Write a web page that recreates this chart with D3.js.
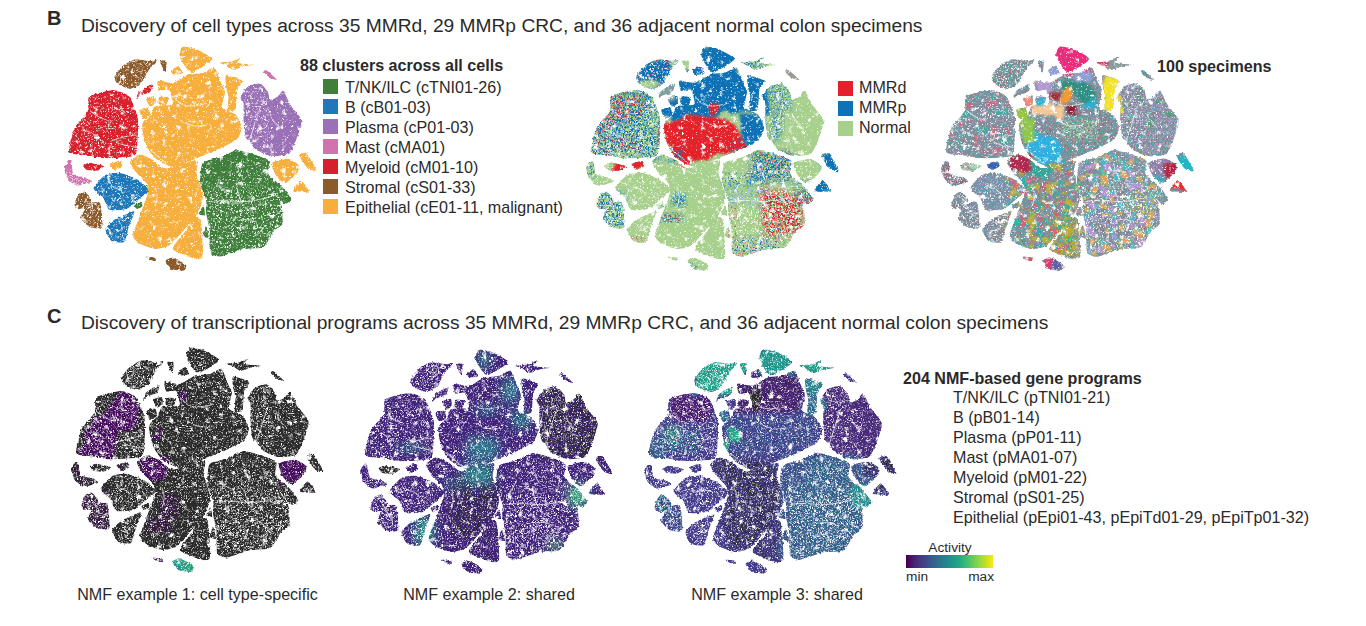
<!DOCTYPE html>
<html><head><meta charset="utf-8">
<script src="https://cdn.jsdelivr.net/npm/d3@7"></script>
<style>html,body{margin:0;background:#fff}svg{display:block}text{font-family:"Liberation Sans",Arial,sans-serif;fill:#2a2a2a}</style>
</head><body><svg id="c" width="1366" height="626"></svg>
<script>
// Embedding outlines (embedding units, 900 x 720 frame)
const tniMain=[[480,420],[488,368],[540,352],[590,330],[640,342],[688,362],[685,400],[703,425],[703,460],[724,490],[728,552],[703,572],[670,622],[610,628],[540,650],[510,637],[508,570],[498,520],[498,480],[483,440]];
const tniSideA=[[695,428],[715,428],[754,475],[735,492],[708,465]];
const tniSideB=[[476,522],[490,498],[496,527]];
const tniSideC=[[488,587],[498,556],[507,594]];
const tniSideD=[[283,495],[305,486],[307,500],[290,507]];
const bMain=[[160,445],[195,405],[240,398],[292,418],[326,450],[292,482],[260,507],[208,510],[188,472]];
const bLower=[[196,567],[225,538],[283,513],[267,560],[252,607],[213,602]];
const plasmaMain=[[601,170],[625,138],[660,130],[684,155],[690,178],[712,170],[730,152],[752,195],[785,240],[772,292],[747,342],[690,348],[645,327],[628,302],[616,292],[610,240],[610,190]];
const mastMain=[[72,385],[85,363],[95,368],[102,403],[140,413],[153,425],[110,437],[83,417]];
const myeloidMain=[[88,337],[103,265],[143,213],[148,168],[220,150],[267,168],[293,230],[293,300],[283,347],[190,355],[150,348]];
const myeloidSmall=[[128,375],[150,368],[192,378],[170,392],[140,390]];
const myeloidSliver=[[288,177],[298,153],[337,131],[330,157],[300,167]];
const myeloidFar=[[670,95],[680,91],[712,120],[690,114]];
const stromalTop=[[223,110],[250,76],[285,58],[330,63],[352,60],[327,90],[302,132],[270,147],[233,132]];
const stromalSliver=[[360,63],[380,63],[377,97],[367,82]];
const stromalLeftA=[[103,495],[115,463],[135,455],[154,480],[147,502],[115,507]];
const stromalLeftB=[[123,535],[145,493],[180,488],[187,562],[150,562]];
const stromalFoot=[[316,650],[345,653],[347,663],[330,660]];
const stromalBase=[[376,662],[400,653],[439,675],[432,692],[395,687]];
const epiTop=[[418,45],[428,20],[470,28],[517,58],[455,97],[430,72]];
const epiDot=[[393,92],[415,78],[427,100],[400,104]];
const epiThin=[[538,68],[575,64],[607,50],[592,68],[642,74],[610,80],[580,90],[560,77]];
const epiWedge=[[558,106],[607,123],[592,150],[587,207],[563,212],[565,170],[558,140]];
const epiBitA=[[298,210],[325,203],[330,225],[310,237]];
const epiBitB=[[318,175],[345,168],[347,190],[330,200]];
const epiBitC=[[358,170],[387,173],[377,197],[356,192]];
const epiUpper=[[353,123],[400,128],[445,103],[490,98],[524,83],[542,125],[555,155],[547,203],[587,223],[606,262],[592,297],[547,323],[482,350],[400,381],[345,355],[316,312],[306,255],[333,223],[345,198],[397,193],[387,150],[358,152]];
const epiLower=[[270,365],[300,343],[340,360],[378,385],[472,360],[470,400],[490,470],[472,522],[422,582],[387,617],[345,627],[300,612],[278,587],[298,530],[323,460],[318,430],[288,397]];
const epiWedgeLow=[[453,533],[482,538],[490,647],[465,657],[398,627],[438,570]];
const epiRight=[[695,368],[745,356],[777,375],[774,397],[735,430],[708,407]];
const epiFar=[[778,345],[800,340],[830,392],[805,387],[788,365]];
const epiTri=[[758,452],[782,421],[808,454],[785,455]];
const epiSmall=[[208,372],[240,363],[247,378],[225,390]];

const clusterShapes=[
 [tniMain,"T"],[tniSideA,"T"],[tniSideB,"T"],[tniSideC,"T"],[tniSideD,"T"],
 [bMain,"B"],[bLower,"B"],[plasmaMain,"P"],[mastMain,"MA"],[myeloidFar,"MA"],
 [myeloidMain,"M"],[myeloidSmall,"M"],[myeloidSliver,"M"],
 [stromalTop,"S"],[stromalSliver,"S"],[stromalLeftA,"S"],[stromalLeftB,"S"],[stromalFoot,"S"],[stromalBase,"S"],
 [epiTop,"E"],[epiDot,"E"],[epiThin,"E"],[epiWedge,"E"],[epiBitA,"E"],[epiBitB,"E"],[epiBitC,"E"],[epiUpper,"E"],[epiLower,"E"],[epiWedgeLow,"E"],[epiRight,"E"],[epiFar,"E"],[epiTri,"E"],[epiSmall,"E"]];

// White gaps visible across all panels
const veins=[
 [[215,302],[250,290],[288,285]],[[230,308],[262,318],[290,322]],[[150,212],[175,232],[200,240]],[[130,270],[150,275],[170,290]],
 [[662,198],[645,250],[628,302]],[[690,220],[700,245],[720,262]],
 [[590,440],[605,500],[640,520]],[[505,485],[560,478],[620,490],[690,470]],[[640,590],[660,580],[672,558]],[[540,410],[535,430],[520,450]],[[600,540],[625,535],[650,548]],[[590,370],[595,395],[610,420]],
 [[400,170],[430,205],[500,190]],[[330,330],[350,345],[380,372]],[[420,240],[460,262],[500,255]],
 [[345,440],[355,470],[345,500]],[[210,440],[235,445],[250,460]],[[225,570],[240,575],[250,560]],[[135,475],[150,500],[160,520]]];

const typeColor={T:"#3f7f3a",B:"#1f78b9",P:"#9a70b6",MA:"#d173ad",M:"#d7202e",S:"#8c5a2b",E:"#f6ae3c"};
const MMRD="#e4202c",MMRP="#0f72b5",NORMAL="#a8d08d",BLACK="#2a2a2a",GAP="#ffffff";

const box=(a,b,c,d)=>[[a,b],[c,b],[c,d],[a,d]];
// Loose, sparsely populated regions shared by every panel
const gapPatches=[
 [box(500,440,730,640),GAP,"m3"],[box(560,360,690,440),GAP,"m2"],[box(225,60,345,145),GAP,"m3"],[box(105,455,190,565),GAP,"m3"],
 [box(95,170,290,350),GAP,"m2"],[box(610,135,690,300),GAP,"m2"],[box(220,515,285,605),GAP,"m3"],[box(190,420,300,500),GAP,"m2"],[box(70,390,150,440),GAP,"m3"]];

const patchesMMR=[
 [box(85,150,300,360),MMRP,"m8"],[[[90,230],[180,170],[230,165],[200,240],[130,290],[95,300]],MMRD,"m5"],[box(150,155,255,230),MMRD,"m3"],[box(90,290,240,345),MMRD,"m3"],
 [[[240,190],[300,190],[300,270],[250,260]],NORMAL,"m7"],[box(150,328,285,356),NORMAL,"m7"],
 [box(220,55,360,150),MMRP,"s"],[box(220,55,335,130),MMRD,"m3"],[[[225,115],[300,130],[285,150],[225,135]],NORMAL,"s"],[box(330,58,385,100),NORMAL,"s"],
 [box(390,15,530,105),MMRP,"s"],[box(535,45,610,95),MMRP,"m7"],[box(665,88,715,125),"#999999","s"],
 [[[345,90],[620,90],[620,225],[560,215],[480,230],[390,235],[320,240],[295,200],[345,160]],MMRP,"s"],[box(445,192,475,222),MMRD,"s"],
 [box(285,130,340,180),"#7c9d9d","s"],
 [[[300,245],[350,232],[440,225],[500,245],[540,290],[560,320],[500,340],[400,360],[375,390],[340,360],[315,320],[295,310]],MMRD,"s"],
 [[[525,225],[610,220],[610,300],[570,320],[540,300]],MMRP,"s"],[[[500,300],[560,300],[560,330],[510,340]],MMRP,"m5"],[box(315,325,365,368),MMRP,"m7"],
 [box(600,130,690,215),MMRP,"m7"],[[[635,215],[665,215],[650,305],[625,300]],MMRP,"m8"],
 [box(128,368,192,392),MMRD,"s"],[box(208,363,247,390),MMRD,"s"],
 [box(65,360,155,440),NORMAL,"s"],[box(70,360,105,410),MMRP,"m5"],
 [box(778,340,830,395),MMRP,"s"],[box(758,420,808,456),MMRP,"s"],
 [box(100,455,190,565),MMRP,"m8"],[box(100,455,190,565),NORMAL,"m3"],[box(100,480,160,510),MMRD,"m3"],
 [box(198,590,255,610),MMRD,"m5"],[box(290,485,310,510),MMRP,"m5"],
 [box(565,335,690,425),MMRP,"m8"],[box(565,335,690,425),MMRD,"m3"],
 [box(485,400,620,440),MMRP,"m5"],[box(495,430,620,500),MMRP,"m5"],
 [[[600,440],[725,470],[725,580],[610,590],[595,520]],MMRD,"m8"],[[[600,440],[725,470],[725,580],[610,590],[595,520]],MMRP,"m2"],
 [box(697,425,755,495),MMRP,"m8"],[box(697,455,755,495),MMRD,"m5"],
 [box(505,590,665,652),MMRP,"m5"],[box(505,590,665,652),MMRD,"m3"],[box(498,480,525,600),MMRD,"m3"],
 [box(330,460,372,500),MMRP,"m8"],[box(295,520,358,546),MMRP,"m7"],[box(295,520,358,546),MMRD,"m3"],
 [box(378,670,410,690),MMRP,"m5"]];

const patchesSpecimen=[
 [box(0,0,900,720),"#62b08a","m5"],[box(0,0,900,720),"#c8607c","m3"],[box(0,0,900,720),"#a795d0","m3"],[box(0,0,900,720),"#3fb2ba","m3"],[box(0,0,900,720),"#8d6f5a","m2"],
 [box(605,125,790,345),"#ab9ccc","m7"],[box(150,160,290,350),"#7f8ea6","m5"],[box(160,400,330,510),"#7d8db8","m7"],
 [box(270,350,490,650),"#25b5a5","L3"],[box(270,350,490,650),"#d0607a","L3"],[box(270,350,490,650),"#b6b040","L3"],
 [box(480,340,730,650),"#8fbf70","L3"],[box(480,340,730,650),"#4db8c0","L3"],[box(480,340,730,650),"#b195d5","L3"],[box(480,340,730,650),"#e0a05a","L2"],
 [box(95,160,290,350),"#c86a80","L2"],[box(95,160,290,350),"#4aa7a0","L3"],[box(610,130,790,345),"#5a9a80","L2"],
 [box(415,20,520,100),"#ee2a7b","s"],[box(535,45,575,92),"#e8325f","s"],[box(575,45,650,92),"#8a9a9a","s"],[box(390,80,430,105),"#8ea0d8","s"],
 [box(555,105,610,215),"#f4e22a","s"],
 [box(778,340,830,395),"#22b5c5","s"],[box(758,420,808,456),"#ee2a2a","s"],
 [box(697,355,778,430),"#8f7fa8","s"],[box(745,370,778,410),"#b5243f","s"],[box(700,405,745,430),"#3fa9b8","s"],
 [[[460,90],[535,90],[535,120],[480,130]],"#8e9fd6","s"],[[[420,115],[500,125],[540,170],[500,190],[440,150]],"#2f8f84","s"],
 [box(355,120,405,170),"#b59ad2","s"],[box(398,148,428,175),"#a92a30","s"],[box(432,148,468,190),"#f39a2f","s"],[box(507,170,537,210),"#25b3d5","s"],[box(452,200,487,225),"#8e1f33","s"],[[[345,190],[445,190],[440,225],[345,230]],"#f4c796","s"],
 [box(300,205,332,250),"#93c83d","s"],[box(317,172,347,200),"#f08a7a","s"],[box(358,170,390,195),"#28b6d8","s"],
 [[[318,265],[420,300],[440,360],[380,375],[340,350]],"#2db1de","s"],[box(318,240,350,300),"#8fc84a","s"],[[[430,240],[540,240],[540,300],[440,300]],"#a7d3a2","m7"],
 [box(275,345,345,395),"#b02a50","s"],[box(340,370,400,410),"#35a597","s"],[box(215,365,250,390),"#2f60c0","s"],[box(130,368,195,392),"#a7d5b5","s"],
 [box(65,360,155,440),"#a2526c","m7"],[box(400,530,490,660),"#b7ad3a","m7"],[box(290,590,350,625),"#40b0b8","m7"],[box(318,648,348,665),"#e83a6f","s"],[box(378,655,412,690),"#d83a76","s"],[box(412,655,440,690),"#5a60a8","s"],
 [box(630,460,728,510),"#a8c03f","m5"],[box(650,560,690,600),"#ef8a3a","m5"]];

const patchesNMF1=[
 [[[95,340],[130,232],[170,222],[220,150],[265,167],[285,212],[270,252],[210,272],[205,352],[130,358],[85,345]],.03,"s"],
 [box(695,355,778,430),.03,"s"],[box(280,352,360,412),.03,"s"],[box(340,462,390,532),.03,"m8"],[box(300,527,370,572),.03,"m7"],
 [box(100,455,190,570),.04,"m8"],[box(70,370,150,440),.03,"m5"],[box(392,152,420,177),.04,"s"],[box(320,267,340,297),.04,"s"],
 [box(315,645,350,665),.05,"s"],[box(375,650,442,695),.55,"s"],[box(405,650,442,695),.78,"m5"],[box(375,650,400,695),.3,"m5"],[box(208,363,247,390),.03,"m5"]];

const patchesNMF2=[
 [box(607,132,790,345),null,"m8"],[[[342,407],[470,360],[490,470],[420,580],[345,577]],null,"m7"],[box(402,547,490,660),null,"m3"],[box(128,368,195,392),null,"s"],
 [box(395,285,485,350),.4,"b"],[box(380,365,470,425),.45,"b"],[box(530,210,580,250),.5,"b"],[box(500,110,545,175),.45,"b"],[box(425,28,460,70),.5,"b"],
 [box(240,525,290,605),.55,"b"],[box(700,425,755,490),.66,"b"],[box(640,595,675,622),.72,"b"],[box(185,305,260,325),.45,"b"],[box(420,190,485,212),.45,"b"],[box(325,410,372,440),.3,"b"]];

const patchesNMF3=[
 [box(148,162,268,227),.08,"s"],[box(118,257,238,327),.42,"m8"],[box(140,255,168,285),.68,"b"],[box(85,290,130,345),.28,"s"],
 [box(605,125,790,345),.12,"s"],
 [box(225,55,385,150),.56,"s"],[box(415,20,520,98),.52,"s"],[box(535,45,650,92),.55,"s"],[box(555,105,610,155),.45,"s"],[box(555,160,610,215),.35,"s"],
 [box(348,97,548,207),.1,"s"],[box(348,97,548,207),null,"m3"],[box(390,145,422,197),null,"s"],
 [box(308,217,600,337),.3,"m7"],[box(318,257,370,297),.6,"s"],[box(298,297,320,322),.62,"s"],[box(300,200,330,235),.38,"s"],
 [[[272,347],[345,345],[470,362],[490,470],[470,520],[385,615],[345,620],[300,560],[330,470],[320,430]],null,"m7"],[box(400,530,490,660),null,"m5"],
 [box(697,355,778,400),null,"m7"],[box(735,400,778,430),.3,"s"],[box(778,340,830,395),null,"m8"],[box(758,420,808,456),null,"m5"],
 [box(478,337,728,650),.25,"s"],[box(558,342,690,427),.42,"m7"],[box(508,427,728,647),.4,"m7"],[box(697,425,755,495),.48,"s"],
 [box(100,455,155,505),.55,"m7"],[box(120,495,190,565),.46,"m5"]];

const panels=[
 {ox:40,oy:40,base:d=>typeColor[d],patches:[],speck:"speckLight"},
 {ox:562,oy:40,base:()=>NORMAL,patches:patchesMMR,speck:"speckLight"},
 {ox:917,oy:40,base:()=>"#7f8d9c",patches:patchesSpecimen,speck:"speckLight"},
 {ox:47,oy:341,base:()=>BLACK,patches:patchesNMF1,speck:"speckHeavy"},
 {ox:336,oy:343,base:()=>"#40227a",patches:patchesNMF2,speck:"speckHeavy"},
 {ox:620,oy:343,base:()=>"#433a8c",patches:patchesNMF3,speck:"speckHeavy"}];

const legendCells=[["T/NK/ILC (cTNI01-26)","T"],["B (cB01-03)","B"],["Plasma (cP01-03)","P"],["Mast (cMA01)","MA"],["Myeloid (cM01-10)","M"],["Stromal (cS01-33)","S"],["Epithelial (cE01-11, malignant)","E"]];
const legendMMR=[["MMRd",MMRD],["MMRp",MMRP],["Normal",NORMAL]];
const programs=["T/NK/ILC (pTNI01-21)","B (pB01-14)","Plasma (pP01-11)","Mast (pMA01-07)","Myeloid (pM01-22)","Stromal (pS01-25)","Epithelial (pEpi01-43, pEpiTd01-29, pEpiTp01-32)"];
const exampleLabels=[["NMF example 1: cell type-specific",197.5],["NMF example 2: shared",489],["NMF example 3: shared",777]];

const svg=d3.select("#c");
const defs=svg.append("defs");
const viridis=d3.scaleSequential(d3.interpolateViridis).domain([0,1]);

function noise(id,freq,oct,seed,t,gain,composite){
 const f=defs.append("filter").attr("id",id).attr("x","-10%").attr("y","-10%").attr("width","120%").attr("height","120%").attr("color-interpolation-filters","sRGB");
 f.append("feTurbulence").attr("type","fractalNoise").attr("baseFrequency",freq).attr("numOctaves",oct).attr("seed",seed).attr("result","n");
 f.append("feColorMatrix").attr("in","n").attr("type","matrix").attr("values",`0 0 0 0 1 0 0 0 0 1 0 0 0 0 1 ${gain} 0 0 0 ${-gain*t}`).attr("result","a");
 if(composite){
  f.append("feGaussianBlur").attr("in","SourceGraphic").attr("stdDeviation",3).attr("result","s");
  f.append("feComposite").attr("in","s").attr("in2","a").attr("operator","in");
 }
}
const densities={m2:.6,m3:.56,m5:.5,m7:.44,m8:.4};
Object.entries(densities).forEach(([k,t])=>[0,1,2].forEach(s=>noise(`${k}-${s}`,.6,3,s*7+3,t,5,true)));
[["L2",.6],["L3",.56]].forEach(([k,t])=>[0,1,2].forEach(s=>noise(`${k}-${s}`,.11,3,s*5+21,t,9,true)));
noise("speckLight",.8,2,11,.64,6,false);
noise("speckHeavy",.8,2,13,.52,3.5,false);
noise("clumps",.16,3,17,.63,6,false);
const rough=defs.append("filter").attr("id","rough").attr("filterUnits","userSpaceOnUse").attr("x",0).attr("y",0).attr("width",1366).attr("height",626);
rough.append("feTurbulence").attr("type","fractalNoise").attr("baseFrequency",.35).attr("numOctaves",2).attr("seed",5).attr("result","n");
rough.append("feDisplacementMap").attr("in","SourceGraphic").attr("in2","n").attr("scale",3).attr("xChannelSelector","R").attr("yChannelSelector","G").attr("result","d");
rough.append("feGaussianBlur").attr("in","d").attr("stdDeviation",.5);
const soft=defs.append("filter").attr("id","soft").attr("x","-60%").attr("y","-60%").attr("width","220%").attr("height","220%");
soft.append("feGaussianBlur").attr("stdDeviation",6);
const sol=defs.append("filter").attr("id","sol").attr("x","-20%").attr("y","-20%").attr("width","140%").attr("height","140%").attr("color-interpolation-filters","sRGB");
sol.append("feTurbulence").attr("type","fractalNoise").attr("baseFrequency",.06).attr("numOctaves",2).attr("seed",9).attr("result","n");
sol.append("feDisplacementMap").attr("in","SourceGraphic").attr("in2","n").attr("scale",14).attr("xChannelSelector","R").attr("yChannelSelector","G").attr("result","d");
sol.append("feGaussianBlur").attr("in","d").attr("stdDeviation",.9);

panels.forEach((p,i)=>{
 const x=d3.scaleLinear().domain([0,900]).range([p.ox,p.ox+300]);
 const y=d3.scaleLinear().domain([0,720]).range([p.oy,p.oy+240]);
 const outline=d3.line().x(d=>x(d[0])).y(d=>y(d[1])).curve(d3.curveCardinalClosed.tension(.4));
 const poly=d3.line().x(d=>x(d[0])).y(d=>y(d[1])).curve(d3.curveLinearClosed);
 const open=d3.line().x(d=>x(d[0])).y(d=>y(d[1])).curve(d3.curveBasis);
 defs.append("clipPath").attr("id","clip"+i).selectAll("path").data(clusterShapes).join("path").attr("d",d=>outline(d[0]));
 const g=svg.append("g").attr("filter","url(#rough)").append("g").attr("clip-path",`url(#clip${i})`);
 g.selectAll("path.shape").data(clusterShapes).join("path").attr("class","shape").attr("d",d=>outline(d[0])).attr("fill",d=>p.base(d[1]));
 const all=p.patches.concat(gapPatches);
 g.selectAll("path.patch").data(all).join("path").attr("class","patch").attr("d",d=>poly(d[0]))
  .attr("fill",d=>{const c=d[1];return c===null?BLACK:(typeof c==="number"?viridis(c):c)})
  .attr("filter",(d,j)=>d[2]==="s"?"url(#sol)":d[2]==="b"?"url(#soft)":`url(#${d[2]}-${j%3})`);
 g.append("rect").attr("x",p.ox).attr("y",p.oy).attr("width",300).attr("height",240).attr("fill","#fff").attr("filter",`url(#${p.speck})`);
 g.append("rect").attr("x",p.ox).attr("y",p.oy).attr("width",300).attr("height",240).attr("fill","#fff").attr("filter","url(#clumps)");
 g.selectAll("path.vein").data(veins).join("path").attr("class","vein").attr("d",open).attr("fill","none").attr("stroke","#fff").attr("stroke-width",1.1).attr("stroke-opacity",.65);
});

const text=(s,x,y,size,o={})=>svg.append("text").attr("x",x).attr("y",y).attr("font-size",size).attr("font-weight",o.w||400).attr("text-anchor",o.a||"start").text(s);
text("B",47,25,20,{w:700});
text("C",47,323,20,{w:700});
text("Discovery of cell types across 35 MMRd, 29 MMRp CRC, and 36 adjacent normal colon specimens",81,32,19.2);
text("Discovery of transcriptional programs across 35 MMRd, 29 MMRp CRC, and 36 adjacent normal colon specimens",81,329,19.2);
text("88 clusters across all cells",300,71,16.1,{w:700});
text("100 specimens",1157,72,16.1,{w:700});
text("204 NMF-based gene programs",903,384,16.1,{w:700});

legendCells.forEach(([s,k],i)=>{
 svg.append("rect").attr("x",323).attr("y",79+i*20).attr("width",15).attr("height",15).attr("fill",typeColor[k]);
 text(s,345,93+i*20,16.1);
});
legendMMR.forEach(([s,c],i)=>{
 svg.append("rect").attr("x",838).attr("y",81+i*20).attr("width",15).attr("height",15).attr("fill",c);
 text(s,859,93+i*20,16.1);
});
programs.forEach((s,i)=>text(s,953,403+i*20,16.1));
exampleLabels.forEach(([s,x])=>text(s,x,600,16.1,{a:"middle"}));

const cb=d3.scaleLinear().domain([0,1]).range([906,993]);
svg.selectAll("rect.cb").data(d3.range(0,1,1/87)).join("rect").attr("class","cb").attr("x",d=>cb(d)).attr("y",555).attr("width",1.3).attr("height",13).attr("fill",d=>viridis(d));
text("Activity",950,552,13.7,{a:"middle"});
text("min",906,581,13.7);
text("max",994,581,13.7,{a:"end"});
</script></body></html>
